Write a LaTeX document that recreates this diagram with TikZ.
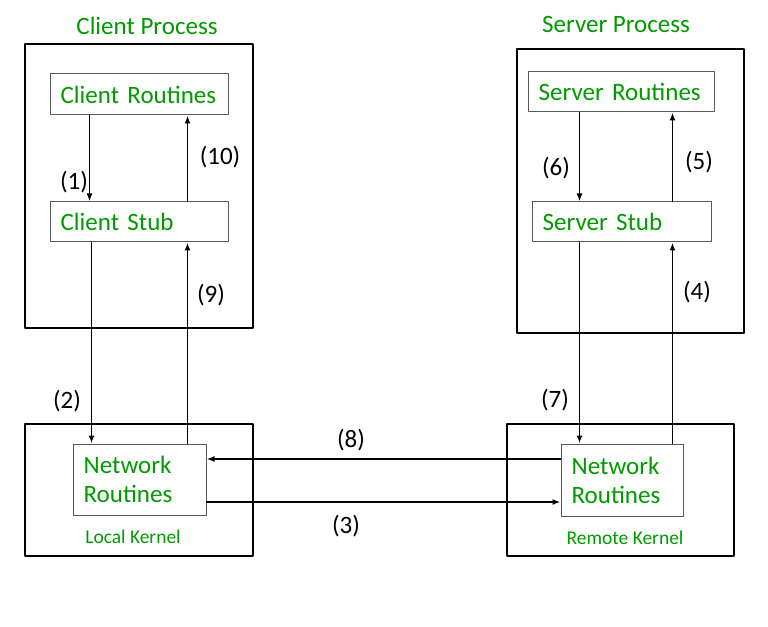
\documentclass[tikz,border=0pt]{standalone}
\usepackage{fontspec}
\setmainfont{Carlito}
\usepackage{xcolor}
\usetikzlibrary{positioning, arrows.meta}
\tikzset{>={Latex[length=6pt,width=4.5pt]}}
\definecolor{procgreen}{RGB}{0,153,0}

\begin{document}
\begin{tikzpicture}[x=0.75pt, y=-0.75pt,
                    line cap=round, line join=round,
                    frame/.style={draw=black, line width=1.5pt, inner sep=0pt},
                    routine/.style={draw=black!65, line width=0.75pt, fill=white,
                                    text=procgreen, align=left, inner xsep=8pt,
                                    inner ysep=0pt, font=\fontsize{18.75}{21.75}\selectfont},
                    title/.style={text=procgreen, font=\fontsize{18.75}{21.75}\selectfont},
                    kernel/.style={text=procgreen, font=\fontsize{14.6}{17}\selectfont},
                    step label/.style={text=black, font=\fontsize{18.75}{21.75}\selectfont},
                    flow/.style={->, line width=1.2pt}]
  \def\px{0.75pt}
  \useasboundingbox (0,0) rectangle (768,627);

  % process and kernel frames
  \node[frame, minimum width=171pt, minimum height=213pt] (cp) at (139,186) {};
  \node[frame, minimum width=170.25pt, minimum height=213pt] (sp) at (630.5,191) {};
  \node[frame, minimum width=171pt, minimum height=99pt] (lk) at (139,490) {};
  \node[frame, minimum width=170.25pt, minimum height=99pt] (rk) at (620.5,490) {};

  \node[title] (cpt) at (147,26) {Client Process};
  \node[title] (spt) at (616,24) {Server Process};
  \node[kernel] (lkt) at (133,537) {Local Kernel};
  \node[kernel] (rkt) at (625,538) {Remote Kernel};

  % routines and stubs
  \node[routine, text width=117.5pt, minimum height=30.75pt] (cr) at (139,94.5) {Client Routines};
  \node[routine, text width=117.5pt, minimum height=30pt] (cs) at (139,222) {Client Stub};
  \node[routine, text width=123.5pt, minimum height=30pt] (sr) at (621,92) {Server Routines};
  \node[routine, text width=118.25pt, minimum height=30pt] (ss) at (621.5,222) {Server Stub};
  \node[routine, text width=83.75pt, minimum height=53.25pt] (nl) at (139.5,479.5) {Network\\Routines};
  \node[routine, text width=75.5pt, minimum height=54pt] (nr) at (622,480) {Network\\Routines};

  % client side
  \draw[flow] ([xshift=40*\px]cr.south west) -- ([xshift=40*\px]cs.north west);
  \draw[flow] ([xshift=138*\px]cs.north west) -- ([xshift=138*\px]cr.south west);
  \draw[flow] ([xshift=42*\px]cs.south west) -- ([xshift=19*\px]nl.north west);
  \draw[flow] ([xshift=115*\px]nl.north west) -- ([xshift=138*\px]cs.south west);

  % server side
  \draw[flow] ([xshift=52*\px]sr.south west) -- ([xshift=48*\px]ss.north west);
  \draw[flow] ([xshift=141*\px]ss.north west) -- ([xshift=145*\px]sr.south west);
  \draw[flow] ([xshift=48*\px]ss.south west) -- ([xshift=19*\px]nr.north west);
  \draw[flow] ([xshift=112*\px]nr.north west) -- ([xshift=141*\px]ss.south west);

  % network
  \draw[flow] ([yshift=-22.5*\px]nl.east) -- ([yshift=-22*\px]nr.west);
  \draw[flow] ([yshift=21*\px]nr.west) -- ([yshift=20.5*\px]nl.east);

  \node[step label] (s1) at (74,182) {(1)};
  \node[step label] (s2) at (67,401) {(2)};
  \node[step label] (s3) at (346,526) {(3)};
  \node[step label] (s4) at (697,292) {(4)};
  \node[step label] (s5) at (699,162) {(5)};
  \node[step label] (s6) at (556,168) {(6)};
  \node[step label] (s7) at (555,400) {(7)};
  \node[step label] (s8) at (351,440) {(8)};
  \node[step label] (s9) at (211,295) {(9)};
  \node[step label] (s10) at (220,157) {(10)};
\end{tikzpicture}
\end{document}
